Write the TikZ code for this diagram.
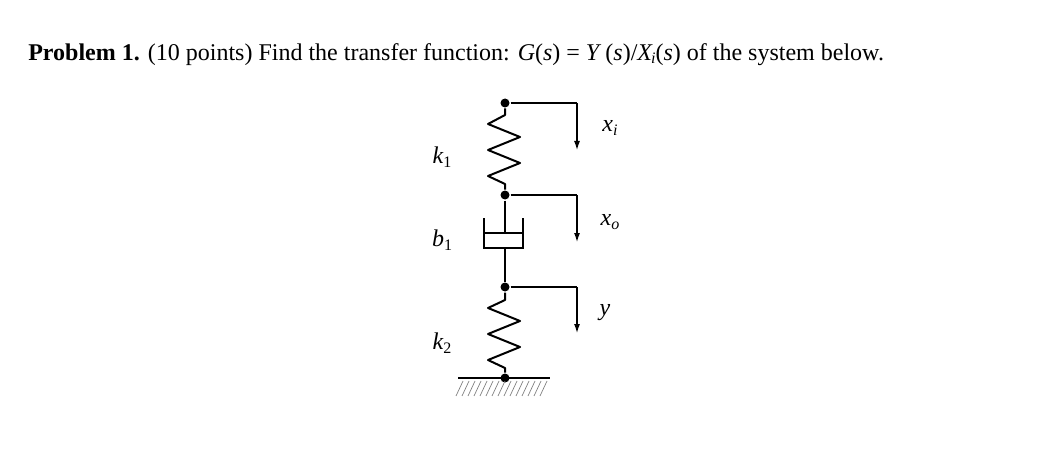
\documentclass[tikz,border=0pt]{standalone}
\usepackage{fontspec}
\setmainfont{Liberation Serif}
\usetikzlibrary{arrows.meta}
\begin{document}
\begin{tikzpicture}[x=1pt,y=-1pt,line width=2pt,
  dot/.style={circle,fill,inner sep=0pt,minimum size=9pt},
  arr/.style={line width=1.2pt,-{Latex[length=9pt,width=6pt]}},
  lab/.style={font=\fontsize{24}{28}\selectfont\itshape}]
\useasboundingbox (0,0) rectangle (1059,457);
\node[anchor=west,font=\fontsize{24}{28}\selectfont] (title) at (24,55) {\textbf{Problem 1.} (10 points) Find the transfer function: \textit{G}(\textit{s}) = \textit{Y}\,(\textit{s})/\textit{X\kern-1pt\raisebox{-3pt}{\fontsize{16}{16}\selectfont i}}(\textit{s}) of the system below.};
\node[dot] (d1) at (505,103) {};
\node[dot] (d2) at (505,195) {};
\node[dot] (d3) at (505,287) {};
\node[dot] (d4) at (505,378) {};
% springs
\draw[line join=round] (d1) -- (505,115) -- (488,124) -- (520,137) -- (488,150) -- (520,163) -- (488,176) -- (505,184) -- (d2);
\draw[line join=round] (d3) -- (505,300) -- (488,308) -- (520,321) -- (488,334) -- (520,347) -- (488,360) -- (505,368) -- (d4);
% damper
\draw (d2) -- (505,233);
\draw (484,218) -- (484,248) -- (523,248) -- (523,218);
\draw (484,233) -- (523,233);
\draw (505,248) -- (d3);
% ground
\draw (458,378) -- (550,378);
\foreach \i in {0,...,14} \draw[line width=0.7pt,gray] (463+6*\i,381) -- (456+6*\i,396);
% arrows
\coordinate (a1) at (577,103); \coordinate (a2) at (577,195); \coordinate (a3) at (577,287);
\draw[line width=1.2pt] (d1) -- (a1); \draw[arr] (a1) -- (577,150);
\draw[line width=1.2pt] (d2) -- (a2); \draw[arr] (a2) -- (577,242);
\draw[line width=1.2pt] (d3) -- (a3); \draw[arr] (a3) -- (577,333);
\node[lab] (k1) at (442,157) {k\raisebox{-4pt}{\upshape\fontsize{16}{16}\selectfont 1}};
\node[lab] (b1) at (442,240) {b\raisebox{-4pt}{\upshape\fontsize{16}{16}\selectfont 1}};
\node[lab] (k2) at (442,343) {k\raisebox{-4pt}{\upshape\fontsize{16}{16}\selectfont 2}};
\node[lab] (xi) at (610,128) {x\raisebox{-4pt}{\fontsize{16}{16}\selectfont i}};
\node[lab] (xo) at (610,222) {x\raisebox{-4pt}{\fontsize{16}{16}\selectfont o}};
\node[lab] (y) at (605,313) {y};
\end{tikzpicture}
\end{document}
